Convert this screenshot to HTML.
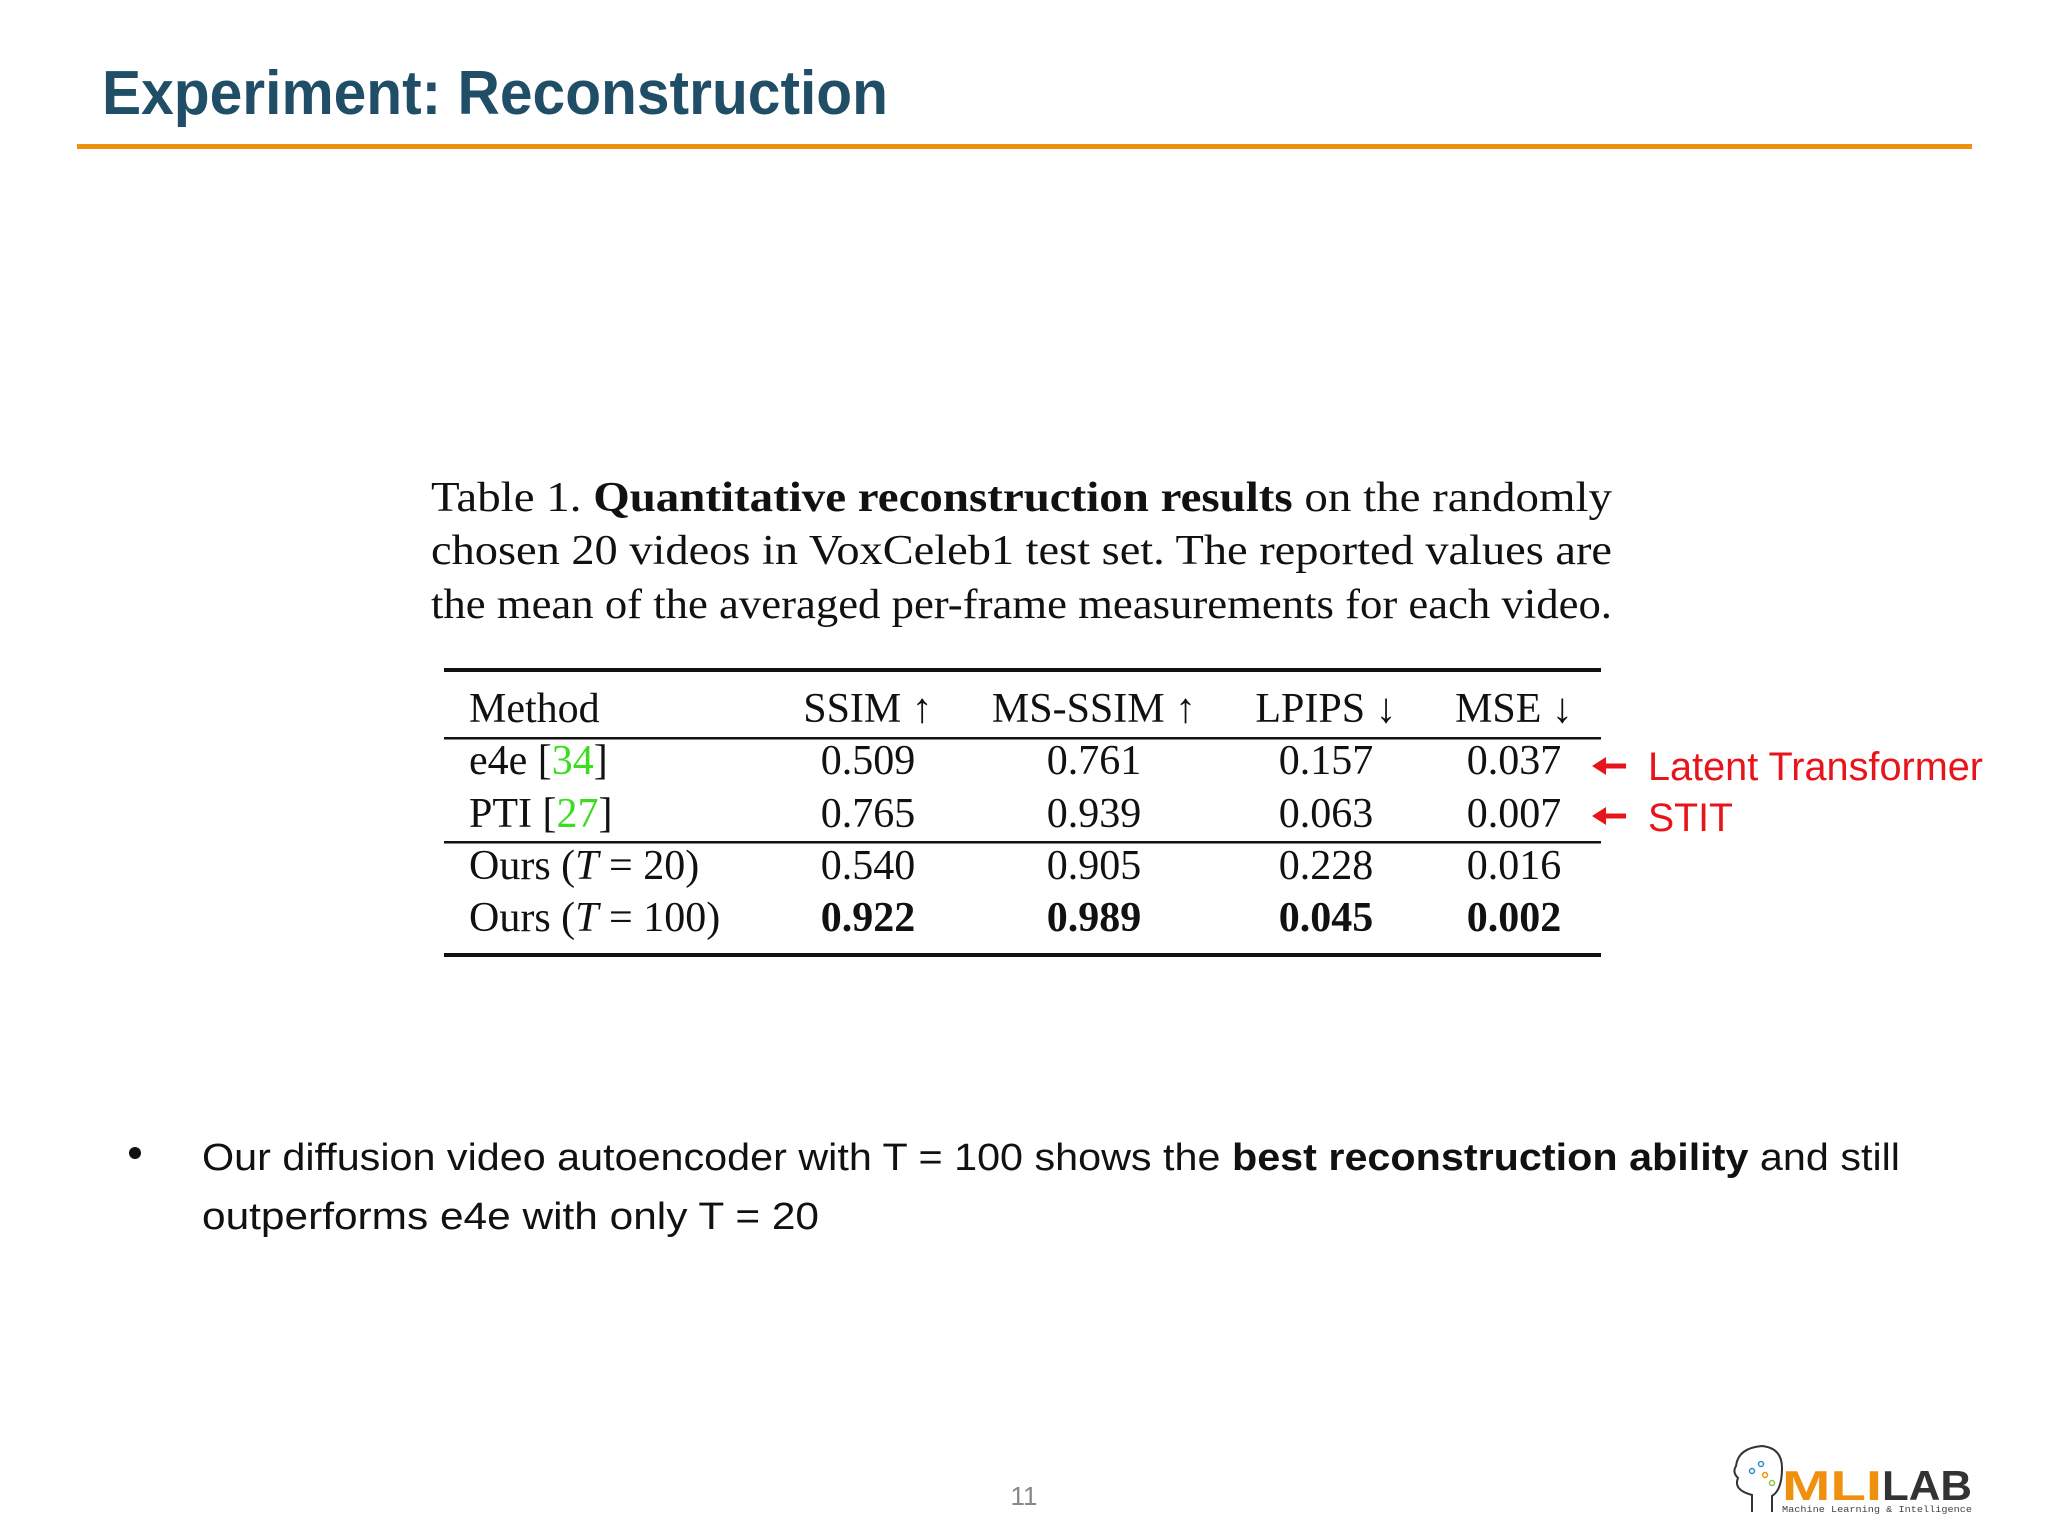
<!DOCTYPE html>
<html><head><meta charset="utf-8"><style>
html,body{margin:0;padding:0;background:#fff;}
svg{display:block;}
</style></head><body>
<svg id="slide" width="2048" height="1536" viewBox="0 0 2048 1536" xmlns="http://www.w3.org/2000/svg">
<rect width="2048" height="1536" fill="#fff"/>
<text x="102" y="114" font-family="Liberation Sans, sans-serif" font-weight="bold" font-size="62" fill="#1f4e66" textLength="786" lengthAdjust="spacingAndGlyphs">Experiment: Reconstruction</text>
<rect x="77" y="144" width="1895" height="5" fill="#f0900f"/>

<g font-family="Liberation Serif, serif" font-size="42" fill="#111">
<text x="431" y="511" textLength="1181" lengthAdjust="spacingAndGlyphs">Table 1. <tspan font-weight="bold">Quantitative reconstruction results</tspan> on the randomly</text>
<text x="431" y="564" textLength="1181" lengthAdjust="spacingAndGlyphs">chosen 20 videos in VoxCeleb1 test set. The reported values are</text>
<text x="431" y="618" textLength="1181" lengthAdjust="spacingAndGlyphs">the mean of the averaged per-frame measurements for each video.</text>
</g>

<g id="table" font-family="Liberation Serif, serif" font-size="42" fill="#111"></g>

<g>
<g><path d="M1626 766 L1604 766" stroke="#e8141b" stroke-width="5"/><path d="M1592 766 L1606 757 L1606 775 Z" fill="#e8141b"/></g>
<text x="1648" y="780" font-family="Liberation Sans, sans-serif" font-size="40" fill="#e8141b" textLength="335" lengthAdjust="spacingAndGlyphs">Latent Transformer</text>
<g><path d="M1626 816 L1604 816" stroke="#e8141b" stroke-width="5"/><path d="M1592 816 L1606 807 L1606 825 Z" fill="#e8141b"/></g>
<text x="1648" y="831" font-family="Liberation Sans, sans-serif" font-size="40" fill="#e8141b" textLength="85" lengthAdjust="spacingAndGlyphs">STIT</text>
</g>

<g font-family="Liberation Sans, sans-serif" font-size="38" fill="#111">
<circle cx="135" cy="1153" r="6" fill="#111"/>
<text x="202" y="1170" textLength="1698" lengthAdjust="spacingAndGlyphs">Our diffusion video autoencoder with T = 100 shows the <tspan font-weight="bold">best reconstruction ability</tspan> and still</text>
<text x="202" y="1229" textLength="617" lengthAdjust="spacingAndGlyphs">outperforms e4e with only T = 20</text>
</g>

<text x="1024" y="1505" text-anchor="middle" font-family="Liberation Sans, sans-serif" font-size="26" fill="#888">11</text>

<g>
<path d="M1752 1512 L1752 1495 Q1733 1490 1738 1478 Q1732 1472 1736 1466 Q1738 1448 1762 1446 Q1782 1448 1782 1468 Q1782 1490 1772 1496 L1772 1512" fill="none" stroke="#333" stroke-width="2"/>
<circle cx="1752" cy="1471" r="2.5" fill="none" stroke="#2a8fd0" stroke-width="1.5"/>
<circle cx="1761" cy="1464" r="2.5" fill="none" stroke="#2a8fd0" stroke-width="1.5"/>
<circle cx="1765" cy="1475" r="2.5" fill="none" stroke="#f0900f" stroke-width="1.5"/>
<circle cx="1772" cy="1483" r="2.5" fill="none" stroke="#8bc34a" stroke-width="1.5"/>
<text x="1782" y="1500" font-family="Liberation Sans, sans-serif" font-weight="bold" font-size="42" fill="#f0900f" textLength="100" lengthAdjust="spacingAndGlyphs">MLI</text>
<text x="1882" y="1500" font-family="Liberation Sans, sans-serif" font-weight="bold" font-size="42" fill="#333" textLength="90" lengthAdjust="spacingAndGlyphs">LAB</text>
<text x="1782" y="1512" font-family="Liberation Mono, monospace" font-size="9" fill="#444" textLength="190" lengthAdjust="spacingAndGlyphs">Machine Learning &amp; Intelligence</text>
</g>
</svg>
<script>
const methods = ["e4e", "PTI", "Ours (T = 20)", "Ours (T = 100)"];
const refs = ["34", "27", "", ""];
const headers = ["SSIM ↑", "MS-SSIM ↑", "LPIPS ↓", "MSE ↓"];
const ssim = ["0.509", "0.765", "0.540", "0.922"];
const msssim = ["0.761", "0.939", "0.905", "0.989"];
const lpips = ["0.157", "0.063", "0.228", "0.045"];
const mse = ["0.037", "0.007", "0.016", "0.002"];
const boldRow = 3;

const NS = "http://www.w3.org/2000/svg";
const g = document.getElementById("table");
const colX = [868, 1094, 1326, 1514];
const rowY = [774, 827, 879, 931];
function mk(tag, attrs, parent){const e=document.createElementNS(NS,tag);for(const k in attrs)e.setAttribute(k,attrs[k]);(parent||g).appendChild(e);return e;}
function rule(y,h,name){const r=mk("rect",{x:444,y:y,width:1157,height:h,fill:"#111"});

}
rule(668,4,"table-top-rule");rule(737,2.5,"table-header-rule");rule(841,2.5,"table-mid-rule");rule(953,4,"table-bottom-rule");
let t=mk("text",{x:469,y:722});t.textContent="Method";


headers.forEach((h,i)=>{const e=mk("text",{x:colX[i],y:722,"text-anchor":"middle"});e.textContent=h;

});
const cols=[ssim,msssim,lpips,mse];
methods.forEach((m,r)=>{
  const e=mk("text",{x:469,y:rowY[r]});
  
  
  if(m.startsWith("Ours")){
    const n=m.match(/= (\d+)/)[1];
    e.innerHTML='Ours (<tspan font-style="italic">T</tspan> = '+n+')';
  } else {
    e.innerHTML=m+' [<tspan fill="#3ddc1f">'+refs[r]+'</tspan>]';
  }
  cols.forEach((c,i)=>{
    const v=mk("text",{x:colX[i],y:rowY[r],"text-anchor":"middle"});
    if(r===boldRow)v.setAttribute("font-weight","bold");
    v.textContent=c[r];
    
    
  });
});
</script>
</body></html>
